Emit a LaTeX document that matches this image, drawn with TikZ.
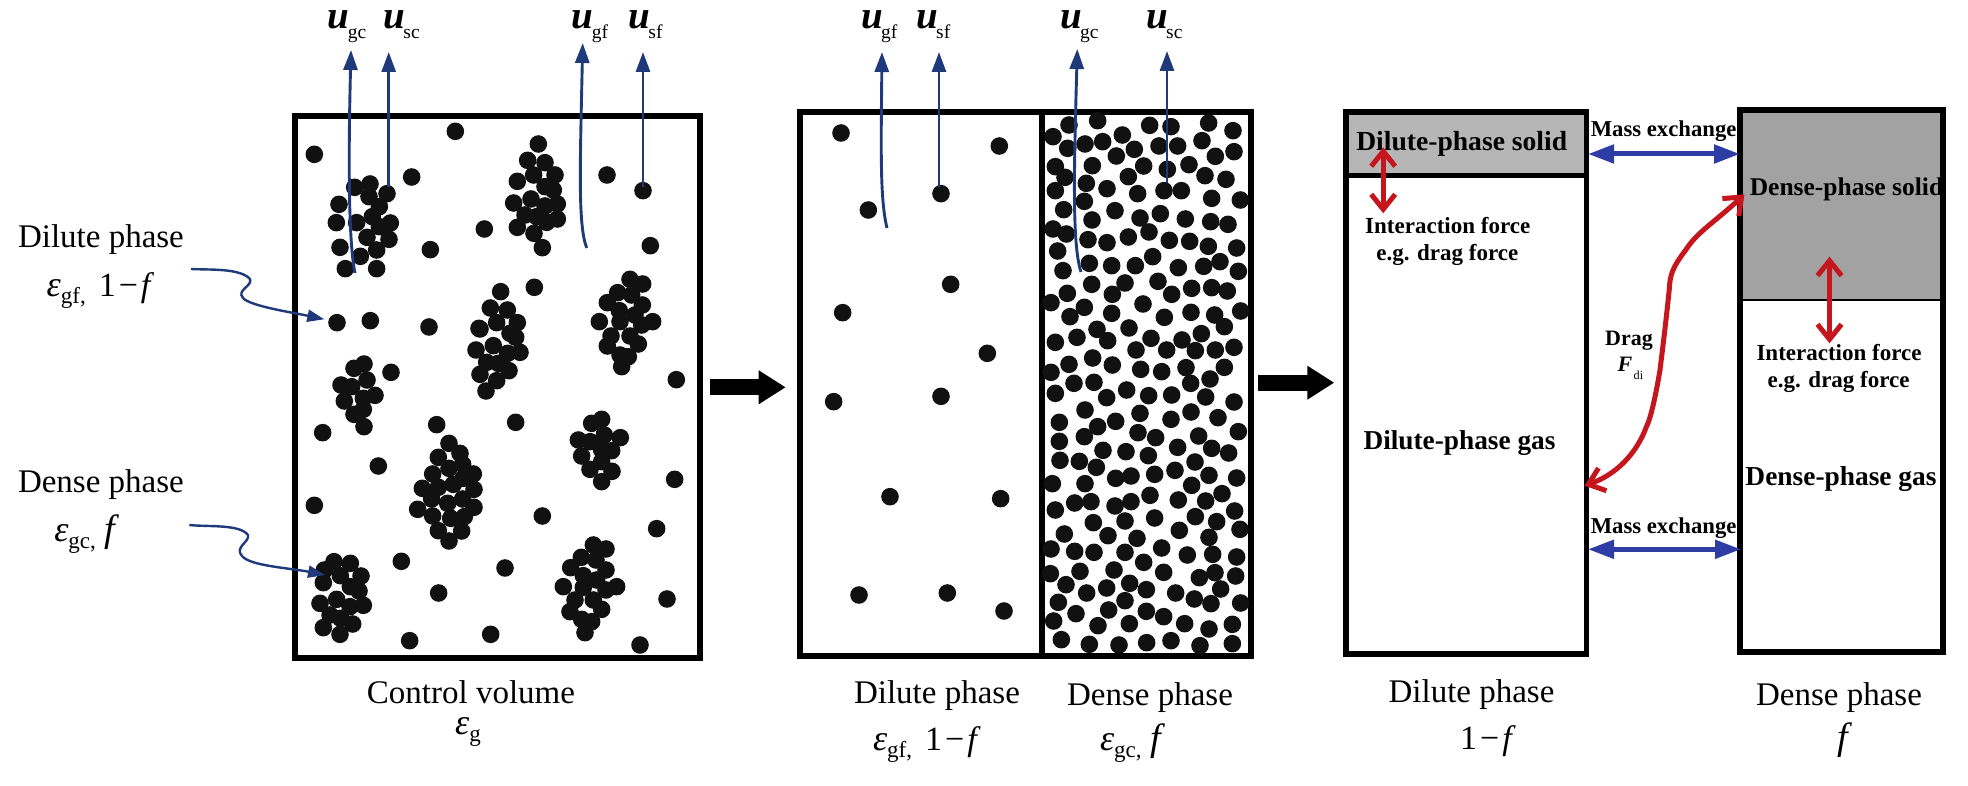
\documentclass[tikz,border=0pt]{standalone}
\usepackage{fontspec}
\setmainfont{Liberation Serif}
\usetikzlibrary{arrows.meta}
\definecolor{navyline}{HTML}{1F3A7A}
\definecolor{blueline}{HTML}{2E3DA6}
\definecolor{redline}{HTML}{C4161C}
\definecolor{greya}{HTML}{B6B6B6}
\definecolor{greyb}{HTML}{A2A2A2}
\definecolor{dotblack}{HTML}{111111}
\newcommand\fsz[1]{\fontsize{#1}{#1}\selectfont}
\newcommand\lowsub[3]{\raisebox{-#2pt}{\fsz{#1}\upshape\mdseries #3}}
\newcommand\velo[1]{{\fsz{39}\bfseries\itshape u}\kern-1.5pt\lowsub{19.5}{10}{#1}}
\newcommand\eps[1]{{\fsz{36}\itshape ε}\lowsub{23}{7}{#1}}
\tikzset{
  txt/.style={inner sep=0pt,outer sep=0pt,anchor=base},
  txtl/.style={inner sep=0pt,outer sep=0pt,anchor=base west},
  label33/.style={txt,font=\fsz{33}},
  label33l/.style={txtl,font=\fsz{33}},
  small23/.style={txt,font=\fsz{23}\bfseries},
  panel/.style={draw=black,line width=5.3pt,inner sep=0pt,outer sep=0pt},
  partic/.style={fill=dotblack},
  flow/.style={draw=navyline,line width=2.9pt,-{Triangle[length=20pt,width=14pt]}},
  pointer/.style={draw=navyline,line width=2.4pt,-{Triangle[length=17pt,width=12pt]}},
  massx/.style={draw=blueline,line width=5pt,{Triangle[length=26pt,width=18pt]}-{Triangle[length=26pt,width=18pt]}},
  forcex/.style={draw=redline,line width=5pt,line cap=round,{Straight Barb[length=15pt,width=24pt]}-{Straight Barb[length=15pt,width=24pt]}},
  bigarrow/.style={draw=black,line width=16pt,-{Triangle[length=27pt,width=32pt]}},
}
\begin{document}
\begin{tikzpicture}[x=1pt,y=-1pt]
\path[use as bounding box,fill=white] (0,0) rectangle (1968,786);

% panels
\node[panel,fill=white,minimum width=405pt,minimum height=542pt] (cv) at (497.5,387) {};
\node[panel,fill=white,minimum width=451pt,minimum height=544pt] (split) at (1025.5,384) {};
\coordinate (divtop) at (1042,112);
\coordinate (divbot) at (1042,656);
\draw[black,line width=5.3pt] (divtop) -- (divbot);

% control volume particles (upper)
\begin{scope}[shift={(280,0)},x=.33333pt,y=-.33333pt]
\foreach \a/\b in {103/463,526/394,395/531,451/749,613/687,981/525,1089/572,1111/737,171/968,271/962,447/981,763/862,
224/562,270/552,267/590,321/581,298/620,177/613,169/668,230/668,277/650,298/680,331/669,261/712,327/718,180/742,290/750,241/769,196/806,290/806,
775/432,743/481,795/488,712/544,761/525,825/525,795/560,820/570,753/597,701/609,795/618,832/612,735/645,770/650,832/657,800/667,712/682,762/700,787/743,
662/875,631/924,682/930,712/968,650/968,600/987,
1050/838,1088/852,1013/878,1055/885,982/908,1087/915,1018/932,1065/945,958/965,1020/965,1118/965,1085/975}
  \fill[partic] (\a,\b) circle[radius=8.8pt];
\end{scope}
% control volume particles (lower)
\begin{scope}[shift={(280,330)},x=.33333pt,y=-.33333pt]
\foreach \a/\b in {597/-5,690/10,707/22,588/60,640/47,720/67,683/70,620/97,655/100,687/122,600/133,650/152,618/183,
993/18,1050/18,1075/42,982/48,1020/75,1045/80,1025/110,
333/127,1189/149,128/308,470/284,707/277,295/408,1184/448,103/526,787/558,1130/596,364/694,675/714,476/789,1161/807,389/932,632/913,1080/945,
252/102,222/115,261/150,183/165,215/170,285/196,193/213,250/205,250/238,222/253,252/290,
965/268,935/280,973/315,1021/323,895/330,930/335,995/362,965/360,905/378,965/395,930/418,996/424,965/455,
507/340,540/370,475/382,548/403,507/415,458/432,580/432,550/445,520/463,475/472,427/475,582/478,455/507,503/520,548/507,582/532,413/538,458/558,512/565,553/560,475/602,545/603,507/633,
162/695,211/700,133/720,181/737,243/738,130/758,211/770,237/783,120/820,170/808,250/826,210/830,150/855,182/865,218/882,130/893,180/913,
940/645,978/657,904/682,948/690,872/713,978/720,910/737,950/750,850/770,910/772,1010/770,978/780,885/810,940/810,965/838,870/845,905/868,935/875,915/908}
  \fill[partic] (\a,\b) circle[radius=8.8pt];
\end{scope}
% split box particles (upper)
\begin{scope}[shift={(790,0)},x=.33333pt,y=-.33333pt]
\foreach \a/\b in {153/399,628/438,453/581,235/630,482/853,158/938,592/1060,
837/375,923/362,1079/376,1143/380,1256/369,1329/392,789/410,997/405,885/432,938/425,833/445,1033/448,1107/438,1163/438,1236/422,1332/455,979/468,1276/469,796/500,907/497,1061/498,1197/494,1132/508,1245/527,825/532,1015/530,1308/538,889/550,951/566,796/572,1043/581,1122/572,1174/572,1265/595,1351/600,883/604,821/629,975/632,1111/641,1050/654,1186/657,906/660,1262/665,1314/673,789/687,829/702,1077/696,1015/711,894/719,951/728,1138/721,1199/724,1255/739,1340/744,803/753,1088/770,1290/785,898/790,965/797,1036/797,1241/799,1165/803,819/812,1345/814,1104/844,905/853,1005/849,1205/865,1265/863,1312/873,832/880,967/883,1145/883,783/908,1059/912,883/922,1203/937,1274/945,1352/933,965/940,840/950,1123/952,1303/980,1017/984,921/988,1234/1001,861/1012,953/1022,1083/1015,1176/1020,796/1027,1038/1050,1130/1050,1216/1052,1276/1050,1332/1042}
  \fill[partic] (\a,\b) circle[radius=8.8pt];
\end{scope}
% split box particles (lower)
\begin{scope}[shift={(790,350)},x=.33333pt,y=-.33333pt]
\foreach \a/\b in {131/155,453/139,300/440,632/446,207/735,472/729,642/783,
908/24,837/43,967/45,783/67,1052/58,1115/65,1188/53,1303/52,1202/100,1260/87,852/100,912/97,796/130,950/143,1010/120,1076/137,1145/135,1247/141,1332/156,885/180,1050/190,1203/186,808/217,977/214,923/230,1143/208,1284/203,1345/245,808/274,883/260,1044/248,1097/263,1226/258,1163/292,1265/295,1316/309,939/301,1008/305,1075/317,810/331,868/334,919/352,1215/336,1155/361,787/401,885/401,977/385,1023/378,1094/373,1257/376,1340/384,1205/406,1296/431,854/459,903/455,975/468,1023/455,1080/436,1165/450,1247/453,796/480,1334/483,910/518,1005/513,1094/504,1216/500,1280/515,823/552,954/557,1041/565,1168/541,1350/538,1257/562,783/597,854/604,912/607,1005/607,1115/594,1192/615,1268/613,1340/621,1061/637,781/671,870/664,972/660,1121/667,1228/683,1275/668,1337/678,828/704,950/714,1019/700,1069/719,890/729,1157/729,1213/747,1292/717,1263/761,805/757,1005/752,1352/759,956/780,858/791,1069/784,1121/800,791/813,1184/821,1018/821,1327/823,924/827,1257/837,814/869,1070/878,1143/872,898/883,987/885,1230/887,1327/881}
  \fill[partic] (\a,\b) circle[radius=8.8pt];
\end{scope}

% right-hand boxes
\node[panel,fill=greya,minimum width=240.5pt,minimum height=63.5pt] (dilsolid) at (1466.2,143.5) {};
\node[panel,minimum width=240.5pt,minimum height=542pt] (dilbox) at (1466.2,383) {};
\node[draw=black,line width=1.2pt,fill=greyb,inner sep=0pt,outer sep=0pt,minimum width=203pt,minimum height=190pt] (densolid) at (1841.5,205) {};
\node[panel,minimum width=203pt,minimum height=542pt] (denbox) at (1841.5,381) {};

% u labels, left panel
\node[txtl] (ugc1) at (327.7,29) {\velo{gc}};
\node[txtl] (usc1) at (383.3,29) {\velo{sc}};
\node[txtl] (ugf1) at (571.7,29) {\velo{gf}};
\node[txtl] (usf1) at (628.3,29) {\velo{sf}};
% u labels, middle panel
\node[txtl] (ugf2) at (861,29) {\velo{gf}};
\node[txtl] (usf2) at (916,29) {\velo{sf}};
\node[txtl] (ugc2) at (1060,29) {\velo{gc}};
\node[txtl] (usc2) at (1146,29) {\velo{sc}};

% velocity arrows
\coordinate (a1s) at (355,273);   \coordinate (a1t) at (351,50);
\coordinate (a2s) at (388.7,187); \coordinate (a2t) at (388.7,52);
\coordinate (a3s) at (586.7,248); \coordinate (a3t) at (582.7,43);
\coordinate (a4s) at (643,187);   \coordinate (a4t) at (643,52);
\coordinate (b1s) at (887,228);   \coordinate (b1t) at (882,52);
\coordinate (b2s) at (939,187);   \coordinate (b2t) at (939,52);
\coordinate (b3s) at (1081,272);  \coordinate (b3t) at (1077.3,49);
\coordinate (b4s) at (1167,183);  \coordinate (b4t) at (1167,51);
\draw[flow] (a1s) .. controls (349,245) and (348,170) .. (a1t);
\draw[flow] (a2s) -- (a2t);
\draw[flow] (a3s) .. controls (578,225) and (580,170) .. (a3t);
\draw[flow] (a4s) -- (a4t);
\draw[flow] (b1s) .. controls (880,200) and (881,150) .. (b1t);
\draw[flow] (b2s) -- (b2t);
\draw[flow] (b3s) .. controls (1072,245) and (1074,170) .. (b3t);
\draw[flow] (b4s) -- (b4t);

% left labels and pointers
\node[label33l] (dil) at (18,247.3) {Dilute phase};
\node[txtl,font=\fsz{34}] (dilv) at (46.7,296.7) {\eps{gf,}\hspace{13pt}1\kern3pt−\kern3pt{\itshape f}};
\node[label33l] (den) at (18,492.3) {Dense phase};
\node[txtl,font=\fsz{34}] (denv) at (54.3,541.7) {\eps{gc,}\hspace{9pt}{\fsz{38}\itshape f}};
\coordinate (p1s) at (191,269);   \coordinate (p1t) at (324.3,319.3);
\coordinate (p2s) at (189.3,525); \coordinate (p2t) at (325,575);
\draw[pointer] (p1s) .. controls (210,270) and (240,268) .. (250,279) .. controls (253,286) and (236,290) .. (243,298) .. controls (250,306) and (290,312) .. (p1t);
\draw[pointer] (p2s) .. controls (208,527) and (240,524) .. (248,535) .. controls (250,542) and (234,547) .. (242,556) .. controls (250,566) and (290,568) .. (p2t);

% big arrows
\coordinate (g1s) at (710,387.3);    \coordinate (g1t) at (785.7,387.3);
\coordinate (g2s) at (1258.3,382.7); \coordinate (g2t) at (1334.3,382.7);
\draw[bigarrow] (g1s) -- (g1t);
\draw[bigarrow] (g2s) -- (g2t);

% bottom labels
\node[label33] (cvl) at (471,703) {Control volume};
\node[txt] (cve) at (468,734) {\eps{g}};
\node[label33] (m1) at (937,703) {Dilute phase};
\node[txtl,font=\fsz{34}] (m1v) at (873,750) {\eps{gf,}\hspace{13pt}1\kern3pt−\kern3pt{\itshape f}};
\node[label33] (m2) at (1150,705) {Dense phase};
\node[txtl,font=\fsz{34}] (m2v) at (1100,750) {\eps{gc,}\hspace{9pt}{\fsz{38}\itshape f}};
\node[label33] (r1) at (1471.5,702.7) {Dilute phase};
\node[txt,font=\fsz{34}] (r1v) at (1486,749.3) {1\kern3pt−\kern3pt{\itshape f}};
\node[label33] (r2) at (1839,705.7) {Dense phase};
\node[txt,font=\fsz{38}\itshape] (r2v) at (1842.7,749) {f};

% box texts
\node[txt,font=\fsz{27.6}\bfseries] (t1) at (1461.7,150.7) {Dilute-phase solid};
\node[txt,font=\fsz{25.5}\bfseries] (t2) at (1846.5,196) {Dense-phase solid};
\node[txt,font=\fsz{27.3}\bfseries] (t3) at (1459.5,449.3) {Dilute-phase gas};
\node[txt,font=\fsz{27.4}\bfseries] (t4) at (1841,485) {Dense-phase gas};
\node[small23] (i1) at (1447.7,233.3) {Interaction force};
\node[small23] (e1) at (1447.3,260.7) {e.g. drag force};
\node[small23] (i2) at (1839,360) {Interaction force};
\node[small23] (e2) at (1838.6,387.3) {e.g. drag force};
\node[txt,font=\fsz{22.7}\bfseries] (mx1) at (1663.6,136.7) {Mass exchange};
\node[txt,font=\fsz{22.7}\bfseries] (mx2) at (1663.6,533.5) {Mass exchange};
\node[txt,font=\fsz{22}\bfseries] (drag) at (1629,345) {Drag};
\node[txtl] (fdi) at (1617.5,371.7) {{\fsz{22}\bfseries\itshape F}\kern1.5pt\lowsub{12.2}{7.5}{di}};

% mass exchange
\coordinate (x1a) at (1588,154); \coordinate (x1b) at (1740,154);
\coordinate (x2a) at (1588,549.3); \coordinate (x2b) at (1741,549.3);
\draw[massx] (x1a) -- (x1b);
\draw[massx] (x2a) -- (x2b);

% interaction forces
\coordinate (f1a) at (1383.2,147.3); \coordinate (f1b) at (1383.2,213.3);
\coordinate (f2a) at (1829.5,256.7); \coordinate (f2b) at (1829.5,343.3);
\draw[forcex] (f1a) -- (f1b);
\draw[forcex] (f2a) -- (f2b);

% drag
\coordinate (d1) at (1744.4,194.3); \coordinate (d2) at (1584.5,485.7);
\draw[forcex] (d1) .. controls (1715,222) and (1697,232) .. (1685.7,250) .. controls (1672,268) and (1670,275) .. (1669.2,290) .. controls (1665,330) and (1663,345) .. (1660,370) .. controls (1655,400) and (1650,420) .. (1646.4,426.7) .. controls (1636,455) and (1615,475) .. (d2);
\end{tikzpicture}
\end{document}
